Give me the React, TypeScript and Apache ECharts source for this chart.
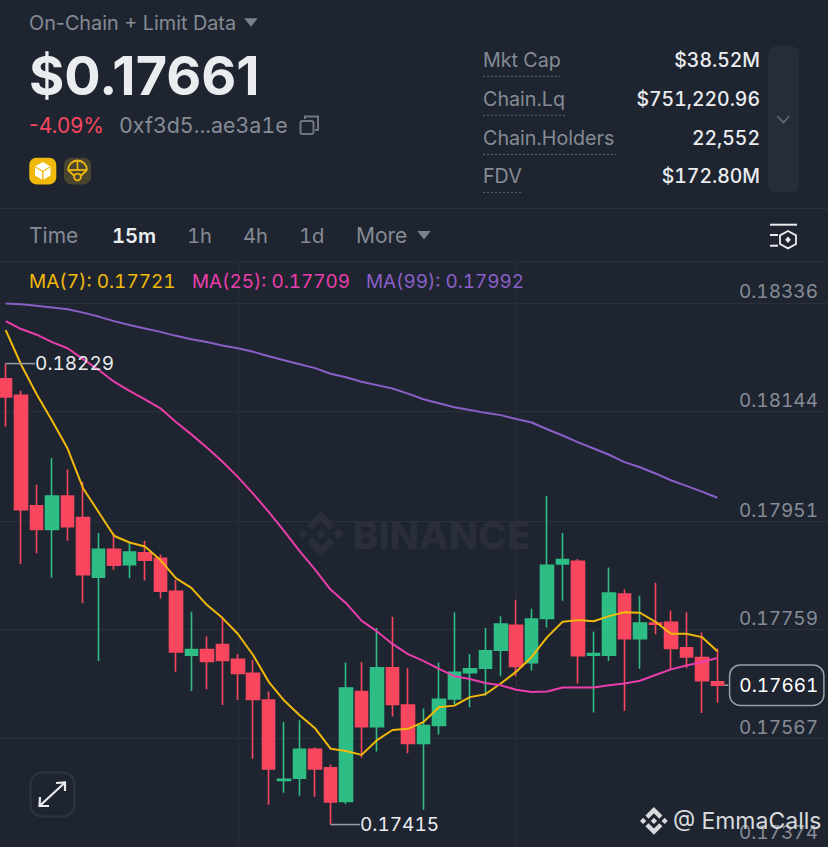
import React, { useEffect, useRef } from "react";
import * as echarts from "echarts";

const FONT = "Inter, 'Noto Sans', sans-serif";
const FONT_PROP = "Inter, 'Noto Sans', Lato, sans-serif";

const lastPrice = 0.17661;
const highMark = 0.18229;
const lowMark = 0.17415;
const priceTicks = [0.18336, 0.18144, 0.17951, 0.17759, 0.17567, 0.17374];

const statLabels = ["Mkt Cap", "Chain.Lq", "Chain.Holders", "FDV"];
const statValues = ["$38.52M", "$751,220.96", "22,552", "$172.80M"];
const timeTabs = ["Time", "15m", "1h", "4h", "1d", "More"];

const opens = [
  0.18202, 0.18173, 0.17978, 0.17936, 0.17995, 0.17957, 0.17852, 0.17901, 0.17874, 0.17895, 0.17885, 0.17827,
  0.17714, 0.17724, 0.17733, 0.17707, 0.17682, 0.17635, 0.17493, 0.17497, 0.17548, 0.17515, 0.17456, 0.1765,
  0.17588, 0.17692, 0.17626, 0.17558, 0.1759, 0.17637, 0.17683, 0.17691, 0.17723, 0.17767, 0.17701, 0.17779,
  0.17875, 0.1788, 0.17714, 0.17714, 0.17822, 0.17743, 0.17771, 0.17772, 0.17727, 0.1771, 0.17667,
];
const closes = [
  0.1817, 0.17971, 0.17936, 0.17995, 0.17941, 0.17856, 0.17901, 0.17873, 0.17896, 0.17882, 0.17827, 0.1772,
  0.17724, 0.17703, 0.17705, 0.17682, 0.17636, 0.17513, 0.17495, 0.17548, 0.17513, 0.17455, 0.17656, 0.17588,
  0.17692, 0.17627, 0.17558, 0.1759, 0.17636, 0.17684, 0.1769, 0.17722, 0.17769, 0.17694, 0.17778, 0.17873,
  0.17883, 0.17713, 0.17717, 0.17824, 0.17743, 0.17771, 0.17769, 0.17726, 0.17711, 0.17669, 0.17661,
];
const lows = [
  0.18118, 0.17875, 0.17894, 0.17851, 0.17916, 0.17806, 0.17704, 0.17865, 0.1785, 0.17846, 0.17814, 0.17685,
  0.17651, 0.17654, 0.17626, 0.17635, 0.17531, 0.1745, 0.17471, 0.17466, 0.17464, 0.17415, 0.17451, 0.17533,
  0.17544, 0.17606, 0.17541, 0.17441, 0.17574, 0.17627, 0.17622, 0.17643, 0.17677, 0.17677, 0.17687, 0.17763,
  0.1781, 0.17664, 0.17613, 0.17704, 0.17616, 0.1769, 0.17751, 0.1769, 0.17691, 0.17612, 0.1763,
];
const highs = [
  0.18229, 0.18181, 0.18015, 0.18062, 0.18042, 0.1802, 0.1793, 0.1793, 0.17915, 0.17916, 0.17892, 0.17847,
  0.17791, 0.17747, 0.17779, 0.17716, 0.17706, 0.1765, 0.17596, 0.17599, 0.17551, 0.17521, 0.17701, 0.17702,
  0.17762, 0.17782, 0.17691, 0.1762, 0.17701, 0.1779, 0.17716, 0.17762, 0.17783, 0.17812, 0.17796, 0.17995,
  0.1793, 0.17884, 0.17756, 0.17869, 0.1783, 0.17819, 0.17842, 0.17793, 0.1779, 0.17754, 0.17726,
];
const ma7 = [
  0.18288, 0.18227, 0.18175, 0.18128, 0.18079, 0.18009, 0.17967, 0.17925, 0.17913, 0.17906, 0.17882, 0.1785,
  0.17833, 0.17803, 0.1778, 0.17752, 0.17714, 0.17667, 0.17634, 0.17608, 0.17585, 0.17549, 0.17545, 0.17538,
  0.17564, 0.17582, 0.17584, 0.17596, 0.17622, 0.17625, 0.1764, 0.17645, 0.17664, 0.17685, 0.17711, 0.17746,
  0.17773, 0.17776, 0.17774, 0.17783, 0.1779, 0.17789, 0.17773, 0.17752, 0.17752, 0.17746, 0.17721,
];
const ma25 = [
  0.18304, 0.1829, 0.1828, 0.18267, 0.18256, 0.18237, 0.18218, 0.18197, 0.18181, 0.18166, 0.1815, 0.18126,
  0.18104, 0.18081, 0.18056, 0.18029, 0.17999, 0.17967, 0.17933, 0.17898, 0.17865, 0.1783, 0.17806, 0.17775,
  0.17756, 0.17734, 0.17716, 0.17704, 0.1769, 0.17677, 0.17672, 0.17665, 0.17661, 0.17653, 0.17649, 0.1765,
  0.17657, 0.17657, 0.17657, 0.17661, 0.17664, 0.17669, 0.17679, 0.17689, 0.17696, 0.17702, 0.17709,
];
const ma99 = [
  0.18335, 0.18334, 0.18331, 0.18328, 0.18325, 0.18319, 0.18312, 0.18304, 0.18297, 0.18291, 0.18285, 0.18278,
  0.18272, 0.18267, 0.18261, 0.18256, 0.1825, 0.18242, 0.18235, 0.18228, 0.18221, 0.18211, 0.18205, 0.18197,
  0.18191, 0.18185, 0.18176, 0.18166, 0.18159, 0.18152, 0.18147, 0.18142, 0.18138, 0.18131, 0.18125, 0.18113,
  0.18102, 0.1809, 0.18079, 0.18068, 0.18055, 0.18046, 0.18035, 0.18023, 0.18013, 0.18003, 0.17992,
];

const BG = "#1e2530";
const GRID = "#2a2f3a";
const GRAY = "#868b95";
const WHITE = "#eaecef";
const RED = "#f9465f";
const GREEN = "#2ebd85";
const YELLOW = "#f0b90b";
const PINK = "#e93eab";
const PURPLE = "#8a5fc7";

const LOGO_D =
  "M16.624 13.9202l2.7175 2.7154-7.353 7.353-7.353-7.352 2.7175-2.7164 4.6355 4.6595 4.6356-4.6595zm4.6366-4.6366L24 12l-2.7154 2.7164L18.5682 12l2.6924-2.7164zm-9.272.001l2.7163 2.6914-2.7164 2.7174v-.001L9.2721 12l2.7164-2.7154zm-9.2722-.001L5.4088 12l-2.6914 2.6924L0 12l2.7164-2.7164zM11.9885.0115l7.353 7.329-2.7174 2.7154-4.6356-4.6356-4.6355 4.6595-2.7174-2.7154 7.353-7.353z";

let logoRegistered = false;

const txt = (
  text: string,
  x: number,
  y: number,
  fill: string,
  fontSize = 21,
  fontWeight: number | string = 400,
  textAlign = "left",
  z = 5,
  fontFamily = FONT,
) => ({
  type: "text",
  x,
  y,
  z,
  silent: true,
  style: { text, x: 0, y: 0, fill, fontSize, fontWeight, fontFamily, textAlign, textVerticalAlign: "middle" },
});

const line = (x1: number, y1: number, x2: number, y2: number, stroke: string, lineWidth = 2, lineDash?: number[]) => ({
  type: "line",
  z: 5,
  silent: true,
  shape: { x1, y1, x2, y2 },
  style: { stroke, lineWidth, lineDash, fill: "none" },
});

const poly = (points: number[][], stroke: string, lineWidth = 2) => ({
  type: "polyline",
  z: 5,
  silent: true,
  shape: { points },
  style: { stroke, lineWidth, fill: "none" },
});

const tri = (points: number[][], fill: string) => ({
  type: "polygon",
  z: 5,
  silent: true,
  shape: { points },
  style: { fill },
});

const rrect = (x: number, y: number, width: number, height: number, r: number, style: any, z = 5) => ({
  type: "rect",
  z,
  silent: true,
  shape: { x, y, width, height, r },
  style,
});

function buildGraphics() {
  const statY = [60, 99, 138, 176];
  const underlineEnd = [560, 566, 616, 523];
  const tabX = [29, 112, 187, 243, 299, 356];
  const tabSize = [21, 20.2, 20.2, 20.2, 20.2, 21];
  const els: any[] = [
    txt("On-Chain + Limit Data", 29, 23, GRAY, 19.8, 400, "left", 5, FONT_PROP),
    tri([[244.3, 18.3], [257.7, 18.3], [251, 26.7]], "#7c828d"),
    txt("$0.17661", 29, 75, WHITE, 54, 700, "left", 5, FONT_PROP),
    txt("-4.09%", 29, 125, RED, 21, 400, "left", 5, FONT_PROP),
    txt("0xf3d5...ae3a1e", 119, 125, GRAY, 21.4),
    rrect(300.5, 121, 13, 13, 2, { stroke: "#70757f", lineWidth: 2, fill: "none" }),
    poly([[305, 119], [305, 116.5], [318, 116.5], [318, 130], [315, 130]], "#70757f", 2),
    // chain badge
    rrect(29.3, 157.7, 27, 26.7, 7, { fill: YELLOW }),
    tri([[42.8, 162], [50.5, 166.5], [50.5, 175.5], [42.8, 180], [35, 175.5], [35, 166.5]], "#ffffff"),
    poly([[35.5, 167], [42.8, 171.5], [50, 167]], YELLOW, 1.4),
    line(42.8, 171.5, 42.8, 180, YELLOW, 1.4),
    // parachute badge
    rrect(64, 157.7, 27, 26.7, 7, { fill: "#4a4531" }),
    { type: "arc", z: 5, silent: true, shape: { cx: 77.5, cy: 170, r: 9.5, startAngle: Math.PI, endAngle: Math.PI * 2 }, style: { stroke: YELLOW, lineWidth: 1.8, fill: "none" } },
    line(68, 170, 87, 170, YELLOW, 1.8),
    line(77.5, 160.5, 77.5, 170, YELLOW, 1.6),
    poly([[68, 170], [74, 175.5]], YELLOW, 1.8),
    poly([[87, 170], [81, 175.5]], YELLOW, 1.8),
    { type: "circle", z: 5, silent: true, shape: { cx: 77.5, cy: 177, r: 3.4 }, style: { stroke: YELLOW, lineWidth: 1.8, fill: "none" } },
    // dividers
    line(0, 208.5, 828, 208.5, GRID, 1),
    line(0, 262, 828, 262, GRID, 1),
    // stats panel
    rrect(768, 46, 31, 146.5, 8, { fill: "#272d38" }),
    poly([[777.3, 116], [783.5, 122.7], [789.3, 116]], "#5e6673", 1.8),
    // tabs
    tri([[417.3, 231], [430.7, 231], [424, 239.5]], "#7c828d"),
    // settings icon
    line(770, 224.7, 797, 224.7, WHITE, 2),
    line(770, 235, 778, 235, WHITE, 2),
    line(770, 245.7, 778, 245.7, WHITE, 2),
    { type: "polygon", z: 5, silent: true, shape: { points: [[788, 231], [796, 235.4], [796, 244], [788, 248.4], [780, 244], [780, 235.4]] }, style: { stroke: WHITE, lineWidth: 1.8, fill: "none" } },
    tri([[788, 236.4], [790.8, 239.7], [788, 243], [785.2, 239.7]], WHITE),
    // legend
    txt("MA(7): 0.17721", 29, 281, YELLOW, 19),
    txt("MA(25): 0.17709", 192, 281, PINK, 18.9),
    txt("MA(99): 0.17992", 366, 281, PURPLE, 18.9),
    // expand button
    rrect(30.5, 772.5, 44, 44, 12, { stroke: "#2f3540", lineWidth: 2, fill: "none" }),
    line(39.5, 806, 65, 782.5, WHITE, 2.2),
    poly([[56, 783], [65, 782.5], [65, 791]], WHITE, 2.2),
    poly([[40, 797], [39.5, 806], [49, 806]], WHITE, 2.2),
    // watermark
    { type: "logo", z: 0, silent: true, x: 298, y: 511, scaleX: 1.9, scaleY: 1.9, style: { fill: "#292e39" } },
    {
      type: "text",
      z: 0,
      silent: true,
      x: 353,
      y: 535,
      style: { text: "BINANCE", x: 0, y: 0, fill: "#292e39", fontSize: 38.5, fontWeight: 800, fontFamily: FONT, textVerticalAlign: "middle" },
    },
    // credit
    { type: "logo", z: 100, silent: true, x: 640, y: 807, scaleX: 1.16, scaleY: 1.16, style: { fill: "#d8dadd" } },
    txt("@ EmmaCalls", 673, 821, "#d8dadd", 23, 400, "left", 100),
  ];
  statLabels.forEach((label, i) => {
    els.push(txt(label, 483, statY[i], GRAY, 19.7));
    els.push(line(483, statY[i] + 16.4, underlineEnd[i], statY[i] + 16.4, "#5e6673", 1, [2, 2]));
    els.push(txt(statValues[i], 760, statY[i], WHITE, 19.4, 500, "right"));
  });
  timeTabs.forEach((label, i) => {
    els.push(txt(label, tabX[i], 235, i === 1 ? WHITE : GRAY, tabSize[i], i === 1 ? 600 : 400));
  });
  return els;
}

export default function App() {
  const ref = useRef<HTMLDivElement>(null);

  useEffect(() => {
    document.body.style.margin = "0";
    document.body.style.background = BG;
    if (!logoRegistered) {
      echarts.graphic.registerShape("logo", echarts.graphic.extendPath(LOGO_D, {}));
      logoRegistered = true;
    }
    const chart = echarts.init(ref.current!, undefined, { renderer: "svg" });
    const slots = Array.from({ length: 54 }, (_, i) => String(i));
    const candles = opens.map((o, i) => [o, closes[i], lows[i], highs[i]]);
    const maSeries = (name: string, data: number[], color: string) => ({
      name,
      type: "line",
      data,
      z: 4,
      showSymbol: false,
      symbol: "none",
      smooth: false,
      silent: true,
      clip: false,
      lineStyle: { color, width: 2 },
    });
    const leaderLabel = {
      show: true,
      position: "right",
      distance: 0,
      color: WHITE,
      fontSize: 19,
      fontFamily: FONT,
    };
    chart.setOption({
      animation: false,
      backgroundColor: BG,
      grid: { left: -2.03, top: 262, width: 835.4, height: 586.9, containLabel: false, outerBoundsMode: "none" },
      graphic: { elements: buildGraphics() },
      xAxis: {
        type: "category",
        data: slots,
        boundaryGap: true,
        axisLine: { show: false },
        axisTick: { show: false },
        axisLabel: { show: false },
        splitLine: { show: false },
      },
      yAxis: {
        type: "value",
        position: "right",
        min: 0.17372,
        max: 0.184084,
        axisLine: { show: false },
        axisTick: { show: false, customValues: priceTicks },
        axisLabel: {
          inside: true,
          margin: 15.4,
          customValues: priceTicks,
          formatter: (v: number) => (v === 0.17374 ? `{low|${v.toFixed(5)}}` : v.toFixed(5)),
          color: GRAY,
          fontSize: 19,
          fontFamily: FONT,
          verticalAlign: "bottom",
          padding: [0, 0, 1.5, 0],
          rich: {
            low: { color: GRAY, fontSize: 19, fontFamily: FONT, padding: [0, 0, 4, 0] },
          },
        },
        splitLine: { show: true, customValues: priceTicks, lineStyle: { color: GRID, width: 1 } },
      },
      series: [
        {
          name: "dividers",
          type: "line",
          data: [],
          z: 1,
          silent: true,
          markLine: {
            silent: true,
            symbol: "none",
            animation: false,
            z: 1,
            label: { show: false },
            lineStyle: { color: GRID, width: 1, type: "solid" },
            data: [{ xAxis: "15" }, { xAxis: "33" }],
          },
        },
        {
          name: "price",
          type: "candlestick",
          data: candles,
          barWidth: 13,
          z: 3,
          silent: true,
          itemStyle: { color: GREEN, color0: RED, borderColor: GREEN, borderColor0: RED, borderWidth: 1.6 },
          markPoint: {
            silent: true,
            animation: false,
            z: 6,
            data: [
              {
                coord: [0, highMark],
                symbol: "rect",
                symbolSize: [29.3, 1.5],
                symbolOffset: [14.7, 0],
                itemStyle: { color: "#9a9ea6" },
                label: { ...leaderLabel, formatter: highMark.toFixed(5) },
              },
              {
                coord: [21, lowMark],
                symbol: "rect",
                symbolSize: [29.5, 1.5],
                symbolOffset: [14.7, 0],
                itemStyle: { color: "#9a9ea6" },
                label: { ...leaderLabel, formatter: lowMark.toFixed(5) },
              },
              {
                coord: [46, lastPrice],
                symbol: "rect",
                symbolSize: [4, 1.5],
                symbolOffset: [9, 0],
                itemStyle: { color: "#9a9ea6" },
                label: {
                  show: true,
                  position: "right",
                  distance: 2,
                  formatter: lastPrice.toFixed(5),
                  color: "#ffffff",
                  fontSize: 19,
                  fontFamily: FONT,
                  backgroundColor: BG,
                  borderColor: "#9a9ea6",
                  borderWidth: 1.5,
                  borderRadius: 10,
                  padding: [10, 19, 10, 9],
                },
              },
            ],
          },
        },
        maSeries("MA(7)", ma7, YELLOW),
        maSeries("MA(25)", ma25, PINK),
        maSeries("MA(99)", ma99, PURPLE),
      ],
    });
    return () => chart.dispose();
  }, []);

  return (
    <>
      <style>
        {'svg text { font-variant-numeric: tabular-nums !important; } svg text[style*="Lato"] { font-variant-numeric: normal !important; }'}
      </style>
      <div ref={ref} style={{ width: 828, height: 847, position: "absolute", left: 0, top: 0, overflow: "hidden" }} />
    </>
  );
}
